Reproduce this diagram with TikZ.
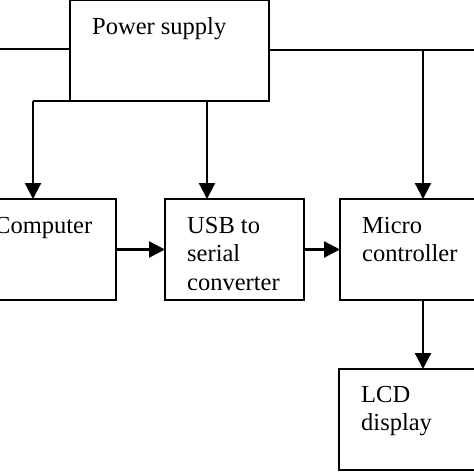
\documentclass[tikz,border=0pt]{standalone}
\usepackage{fontspec}
\setmainfont{Liberation Serif}
\usetikzlibrary{positioning}
\usetikzlibrary{arrows.meta}

\begin{document}
\begin{tikzpicture}[x=1pt, y=-1pt,
  block/.style={draw, line width=2.3pt, rectangle, outer sep=0pt, inner sep=0pt,
    minimum height=101pt, anchor=north west},
  txt/.style={anchor=base west, inner sep=0pt, align=left,
    font=\fontsize{24.5}{28.5}\selectfont},
  wire/.style={line width=2.3pt},
  flow/.style={line width=2.3pt, -{Triangle[length=16pt,width=16pt]}}]
  \clip (0,0) rectangle (474,474);
  \useasboundingbox (0,0) rectangle (474,474);

    %----------------------------------------------------------
    % Blocks
    %----------------------------------------------------------
  \node[block, minimum width=199pt] (power) at (70,0) {};
  \node[block, minimum width=141pt] (comp) at (-25,199) {};
  \node[block, minimum width=139pt] (usb) at (165,199) {};
  \node[block, minimum width=160pt] (micro) at (340,199) {};
  \node[block, minimum width=160pt] (lcd) at (339,369) {};

  % text is anchored at the baseline of its last line
  \node[txt] (powertxt) at ([shift={(22,34)}]power.north west) {Power supply};
  \node[txt] (comptxt) at ([shift={(19,34)}]comp.north west) {Computer};
  \node[txt] (usbtxt) at ([shift={(22,91)}]usb.north west) {USB to\\serial\\converter};
  \node[txt] (microtxt) at ([shift={(22,62.5)}]micro.north west) {Micro\\controller};
  \node[txt] (lcdtxt) at ([shift={(22,61.5)}]lcd.north west) {LCD\\display};

    %----------------------------------------------------------
    % Supply lines
    %----------------------------------------------------------
  \coordinate (pl) at (0,49);
  \coordinate (pr) at (474,50);
  \coordinate (jm) at (423,50);
  \coordinate (jc) at (33,101);
  \coordinate (ju) at (207,101);

  \draw[wire] (pl) -- (pl -| power.west);
  \draw[wire] (power.east |- pr) -- (pr);
  \draw[wire] (jc) -- (power.south west);
  \draw[flow] (jc) -- (jc |- comp.north);
  \draw[flow] (ju) -- (ju |- usb.north);
  \draw[flow] (jm) -- (jm |- micro.north);

    %----------------------------------------------------------
    % Data path
    %----------------------------------------------------------
  \draw[flow] (comp) -- (usb);
  \draw[flow] (usb) -- (micro);
  \draw[flow] (jm |- micro.south) -- (jm |- lcd.north);
\end{tikzpicture}
\end{document}
